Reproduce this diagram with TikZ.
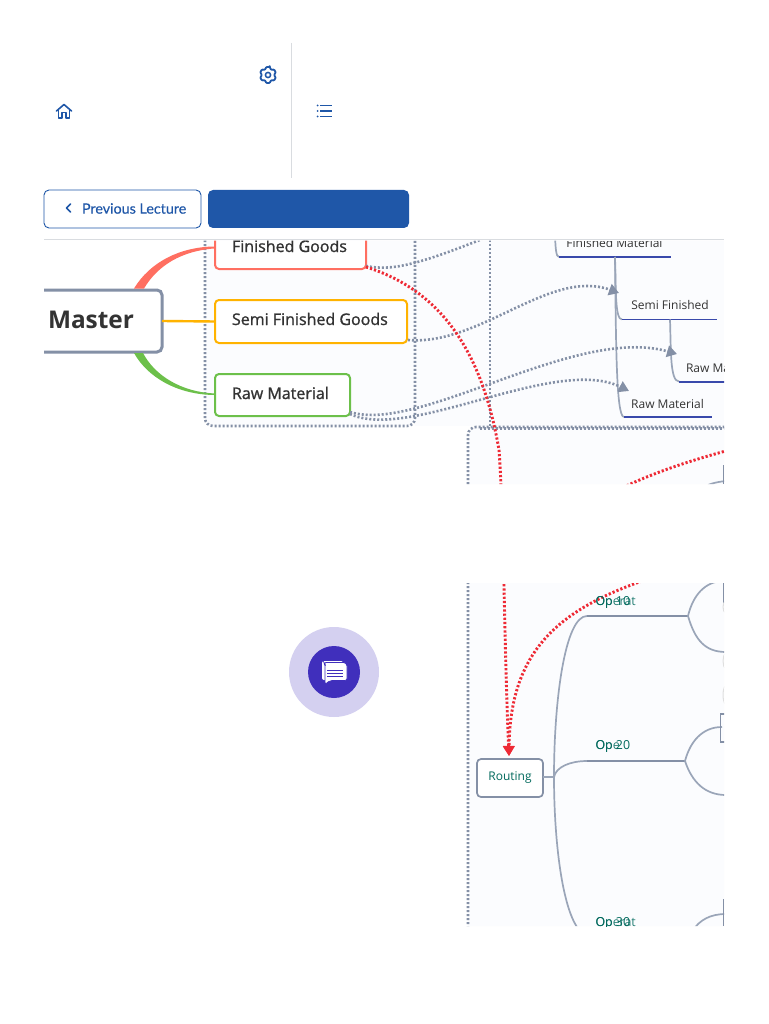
\documentclass[tikz,border=0pt]{standalone}
\usepackage{fontspec}
\setmainfont{Open Sans}
\newfontfamily\lato[FakeBold=0.25]{Lato}
\newfontfamily\semi[FakeBold=1.2]{Open Sans}
\newfontfamily\fine{Open Sans}
\usetikzlibrary{arrows.meta}
\definecolor{btnblue}{HTML}{1F57A8}
\definecolor{slate}{HTML}{8490A6}
\definecolor{trunk}{HTML}{9AA5B8}
\definecolor{ink}{HTML}{333333}
\definecolor{coral}{HTML}{FF6F61}
\definecolor{amber}{HTML}{FFB300}
\definecolor{leaf}{HTML}{6CC04A}
\definecolor{tint}{HTML}{FBFCFE}
\definecolor{under}{HTML}{3949AB}
\definecolor{tealtext}{HTML}{00695C}
\definecolor{redlink}{HTML}{EE2A35}
\definecolor{halo}{HTML}{D4D0F0}
\definecolor{violet}{HTML}{402FBC}
\definecolor{rulegrey}{HTML}{D9DCE0}
\tikzset{
  x=1pt,y=-1pt,
  every node/.style={outer sep=0pt},
  topicbox/.style={draw,line width=2pt,fill=white,rounded corners=4pt,inner sep=0pt,anchor=north west},
  topictext/.style={text=ink,font=\semi\fontsize{16}{18}\selectfont,inner sep=0pt,anchor=west},
  leaftext/.style={text=ink,font=\fine\fontsize{12}{14}\selectfont,inner sep=0pt},
  optext/.style={text=tealtext,font=\fine\fontsize{12.4}{14}\selectfont,inner sep=0pt,anchor=west},
  grayline/.style={draw=trunk,line width=1.7pt},
  dotgray/.style={draw=slate,line width=2.6pt,dash pattern=on 2pt off 2pt},
  dotred/.style={draw=redlink,line width=2.9pt,dash pattern=on 2.2pt off 2pt},
  dotarrow/.style={-{Triangle[length=10pt,width=11.5pt,fill=slate]}},
  redarrow/.style={-{Triangle[length=10pt,width=11pt,fill=redlink]}},
  iconline/.style={draw=btnblue,line width=1.6pt,line cap=round,line join=round},
}
\begin{document}
\begin{tikzpicture}
\useasboundingbox (0,0) rectangle (768,1024);
\fill[white] (0,0) rectangle (768,1024);

% header
\draw[rulegrey,line width=1pt] (291,43) -- (291,178);
\draw[rulegrey,line width=1pt] (44,239.5) -- (724,239.5);

% gear
\draw[btnblue,line width=1.8pt,line join=round,rounded corners=.8pt]
  (268+8.2*cos 78,75-8.2*sin 78)
  foreach \a in {90,30,-30,-90,-150,-210}{
    -- ({268+8.2*cos(\a-12)},{75-8.2*sin(\a-12)})
    -- ({268+6*cos(\a-30)},{75-6*sin(\a-30)})
    -- ({268+8.2*cos(\a-48)},{75-8.2*sin(\a-48)})
  } -- cycle;
\draw[btnblue,line width=1.5pt] (268,75) circle (2.6);
% home
\draw[iconline] (56.5,111) -- (64,104.5) -- (71.5,111);
\draw[iconline] (58.5,110) -- (58.5,118) -- (61.8,118) -- (61.8,112.5) -- (66.2,112.5) -- (66.2,118) -- (69.5,118) -- (69.5,110);
% list
\foreach \y in {105.5,111,116.5}{
  \fill[btnblue] (317.5,\y) circle (1);
  \draw[btnblue,line width=1.9pt] (320,\y) -- (332,\y);
}

% buttons
\node[draw=btnblue,line width=.9pt,rounded corners=5pt,minimum width=157pt,minimum height=38pt,inner sep=0pt,anchor=north west] (prev) at (44,190) {};
\node[anchor=west,inner sep=0pt,text=btnblue,font=\lato\fontsize{14.3}{16}\selectfont] (prevtext) at (82,208.5) {Previous Lecture};
\draw[btnblue,line width=1.7pt,line cap=round,line join=round] (70.5,204) -- (66.5,208) -- (70.5,212);
\node[fill=btnblue,rounded corners=5pt,minimum width=201pt,minimum height=38pt,inner sep=0pt,anchor=north west] (next) at (208,190) {};

% chat
\fill[halo] (334,672) circle (45);
\fill[violet] (334,672) circle (26);
\fill[white,rounded corners=2pt] (322,661) rectangle (343,680);
\draw[violet,line width=.8pt,rounded corners=2pt,fill=white] (324,662.5) -- (345.5,662.5) -- (347,664) -- (347,680.5) -- (330,680.5) -- (325,684.5) -- (325,664) -- cycle;
\foreach \y in {670,673,676} \draw[violet,line width=.9pt] (327,\y) -- (343,\y);

% mind map panels (clipped)
\begin{scope}
\clip (44,240.5) rectangle (724,484) (466,583) rectangle (724,926);

\fill[tint,rounded corners=8pt] (205,200) rectangle (415,426);
\fill[tint] (415,200) rectangle (724,426);
\fill[tint,rounded corners=8pt] (468,427) rectangle (800,1000);

\draw[dotgray,rounded corners=8pt] (205,200) -- (205,426) -- (415,426) -- (415,200);
\draw[dotgray] (490,200) -- (490,426);
\draw[dotgray,rounded corners=8pt] (468,1000) -- (468,427) -- (800,427);
\draw[dotgray] (480,428.2) -- (800,428.2);

% nodes
\node[topicbox,draw=slate,line width=3pt,rounded corners=5pt,minimum width=142pt,minimum height=62pt] (master) at (20,290) {};
\node[inner sep=0pt,anchor=west,text=ink,font=\fontsize{24.4}{28}\selectfont\bfseries] (mastertext) at (48,320) {Master};
\node[topicbox,draw=coral,minimum width=151pt,minimum height=59pt] (fg) at (215,210) {};
\node[topictext] (fgtext) at (232,246) {Finished Goods};
\node[topicbox,draw=amber,minimum width=192pt,minimum height=43pt] (sfg) at (215,300) {};
\node[topictext] (sfgtext) at (232,319) {Semi Finished Goods};
\node[topicbox,draw=leaf,minimum width=135pt,minimum height=42pt] (rm) at (215,374) {};
\node[topictext] (rmtext) at (232,393) {Raw Material};

% anchors on nodes
\coordinate (mN) at (134,288.5);
\coordinate (mS) at (134,353);
\coordinate (fgW) at (214,246.5);
\coordinate (rmW) at (214,395);

% master links
\fill[coral] (mN) .. controls (150,262) and (180,247) .. (fgW) -- ++(0,2) .. controls (182,251) and (158,265) .. (144,288.5) -- cycle;
\fill[leaf] (mS) .. controls (148,378) and (178,394.5) .. (rmW) -- ++(0,-1.6) .. controls (182,392) and (155,376) .. (143,353) -- cycle;
\draw[amber,line width=2.4pt] (master.east) -- (sfg.west);

% right tree, top
\coordinate (fmStart) at (555,235);
\coordinate (fmL) at (559,257);
\coordinate (fmR) at (671,257);
\coordinate (fmJ) at (615,257);
\node[leaftext] (fmtext) at (614.5,243) {Finished Material};
\draw[grayline] (fmStart) .. controls (555.5,248) and (556,257) .. (fmL);
\draw[under,line width=2pt] (fmL) -- (fmR);

\coordinate (sfL) at (622,319.5);
\coordinate (sfR) at (717,319.5);
\coordinate (sfJ) at (670,319.5);
\node[leaftext] (sftext) at (670,305) {Semi Finished};
\draw[grayline] (fmJ) .. controls (616,290) and (615,319.5) .. (sfL);
\draw[under,line width=.9pt] (sfL) -- (sfR);

\coordinate (rmaL) at (679,381.5);
\coordinate (rmaR) at (730,381.5);
\node[leaftext,anchor=west] (rmatext) at (686,368) {Raw Material};
\draw[grayline] (sfJ) .. controls (671,350) and (670,381.5) .. (rmaL);
\draw[under,line width=2pt] (rmaL) -- (rmaR);

\coordinate (rm2L) at (624,417);
\coordinate (rm2R) at (712,417);
\node[leaftext] (rm2text) at (667.5,403.5) {Raw Material};
\draw[grayline] (fmJ) .. controls (616,340) and (616,417) .. (rm2L);
\draw[under,line width=2pt] (rm2L) -- (rm2R);

% dotted relations
\coordinate (fgOut) at (366,266);
\coordinate (fgOff) at (500,232);
\draw[dotgray] (fgOut) .. controls (395,272) and (425,262) .. (fgOff);

\coordinate (sfgOut) at (408,340);
\coordinate (sfIn) at (619,293);
\draw[dotgray,dotarrow] (sfgOut) .. controls (480,346) and (550,268) .. (sfIn);

\coordinate (rmOutA) at (350,412);
\coordinate (rmOutB) at (350,414);
\coordinate (rmaIn) at (677,354);
\coordinate (rm2In) at (629,391);
\draw[dotgray,dotarrow] (rmOutA) .. controls (420,434) and (575,325) .. (rmaIn);
\draw[dotgray,dotarrow] (rmOutB) .. controls (410,442) and (555,355) .. (rm2In);

% routing subtree
\node[draw=slate,line width=1.7pt,rounded corners=4pt,fill=white,minimum width=66pt,minimum height=38pt,inner sep=0pt,anchor=north west,text=tealtext,font=\fine\fontsize{12}{14}\selectfont] (routing) at (477,759) {Routing};
\coordinate (rJ) at (554,777);
\draw[grayline] (routing.east |- rJ) -- (rJ);

\coordinate (op1L) at (587,616);
\coordinate (op1R) at (688,616);
\coordinate (op2L) at (587,761);
\coordinate (op2R) at (685,761);
\coordinate (op3L) at (590,936);
\coordinate (op3R) at (700,936);
\draw[grayline] (rJ) .. controls (554,700) and (565,616) .. (op1L);
\draw[grayline,draw=slate] (op1L) -- (op1R);
\draw[grayline] (rJ) .. controls (556,767) and (570,761) .. (op2L);
\draw[grayline,draw=slate] (op2L) -- (op2R);
\draw[grayline] (rJ) .. controls (554,850) and (565,936) .. (op3L);
\draw[grayline,draw=slate] (op3L) -- (op3R);

\coordinate (op1Up) at (722,581);
\coordinate (op1Dn) at (726,652);
\draw[grayline] (op1R) .. controls (693,595) and (705,582) .. (op1Up);
\draw[grayline] (op1R) .. controls (695,640) and (705,652) .. (op1Dn);
\coordinate (op2Up) at (722,727);
\coordinate (op2Dn) at (726,795);
\draw[grayline] (op2R) .. controls (690,742) and (702,727) .. (op2Up);
\draw[grayline] (op2R) .. controls (692,782) and (705,795) .. (op2Dn);
\coordinate (op3Up) at (726,914);
\draw[grayline] (693,930) .. controls (700,920) and (710,914) .. (op3Up);
\draw[grayline] (703,488) .. controls (708,484) and (716,482) .. (726,481);

% stub boxes on right edge
\draw[slate,line width=1.4pt] (726,714) -- (720.5,714) -- (720.5,742) -- (726,742);
\draw[slate,line width=1pt] (723.5,583) -- (723.5,606);
\draw[slate,line width=1pt] (723.5,899) -- (723.5,926);
\draw[slate,line width=1pt] (723.5,465) -- (723.5,484);
\draw[gray!25,line width=1pt] (726,600) .. controls (722,603) and (722,611) .. (726,614);
\draw[gray!25,line width=1pt] (726,652) .. controls (722,656) and (722,666) .. (726,670);
\draw[gray!25,line width=1pt] (726,684) .. controls (722,690) and (722,700) .. (726,706);

% red relations
\coordinate (fgRed) at (366,267);
\coordinate (redTipA) at (509,756);
\draw[dotred,redarrow] (fgRed) .. controls (440,290) and (482,350) .. (499,450) .. controls (504,520) and (504,640) .. (redTipA);
\coordinate (redOff) at (740,447);
\coordinate (redCutA) at (626,486);
\coordinate (redCutB) at (642,581);
\draw[dotred] (redOff) .. controls (700,458) and (665,468) .. (redCutA);
\draw[dotred,redarrow] (redCutB) .. controls (560,610) and (510,650) .. (redTipA);

% overlapping labels
\node[optext] (op1a) at (595.5,602) {Op 10};
\node[optext,opacity=.85] (op1b) at (595.5,602) {Operat};
\node[optext] (op2a) at (595.5,746.5) {Op 20};
\node[optext,opacity=.85] (op2b) at (595.5,746.5) {Ope};
\node[optext] (op3a) at (595.5,923.5) {Op 30};
\node[optext,opacity=.85] (op3b) at (595.5,923.5) {Operat};
\end{scope}
\end{tikzpicture}
\end{document}
